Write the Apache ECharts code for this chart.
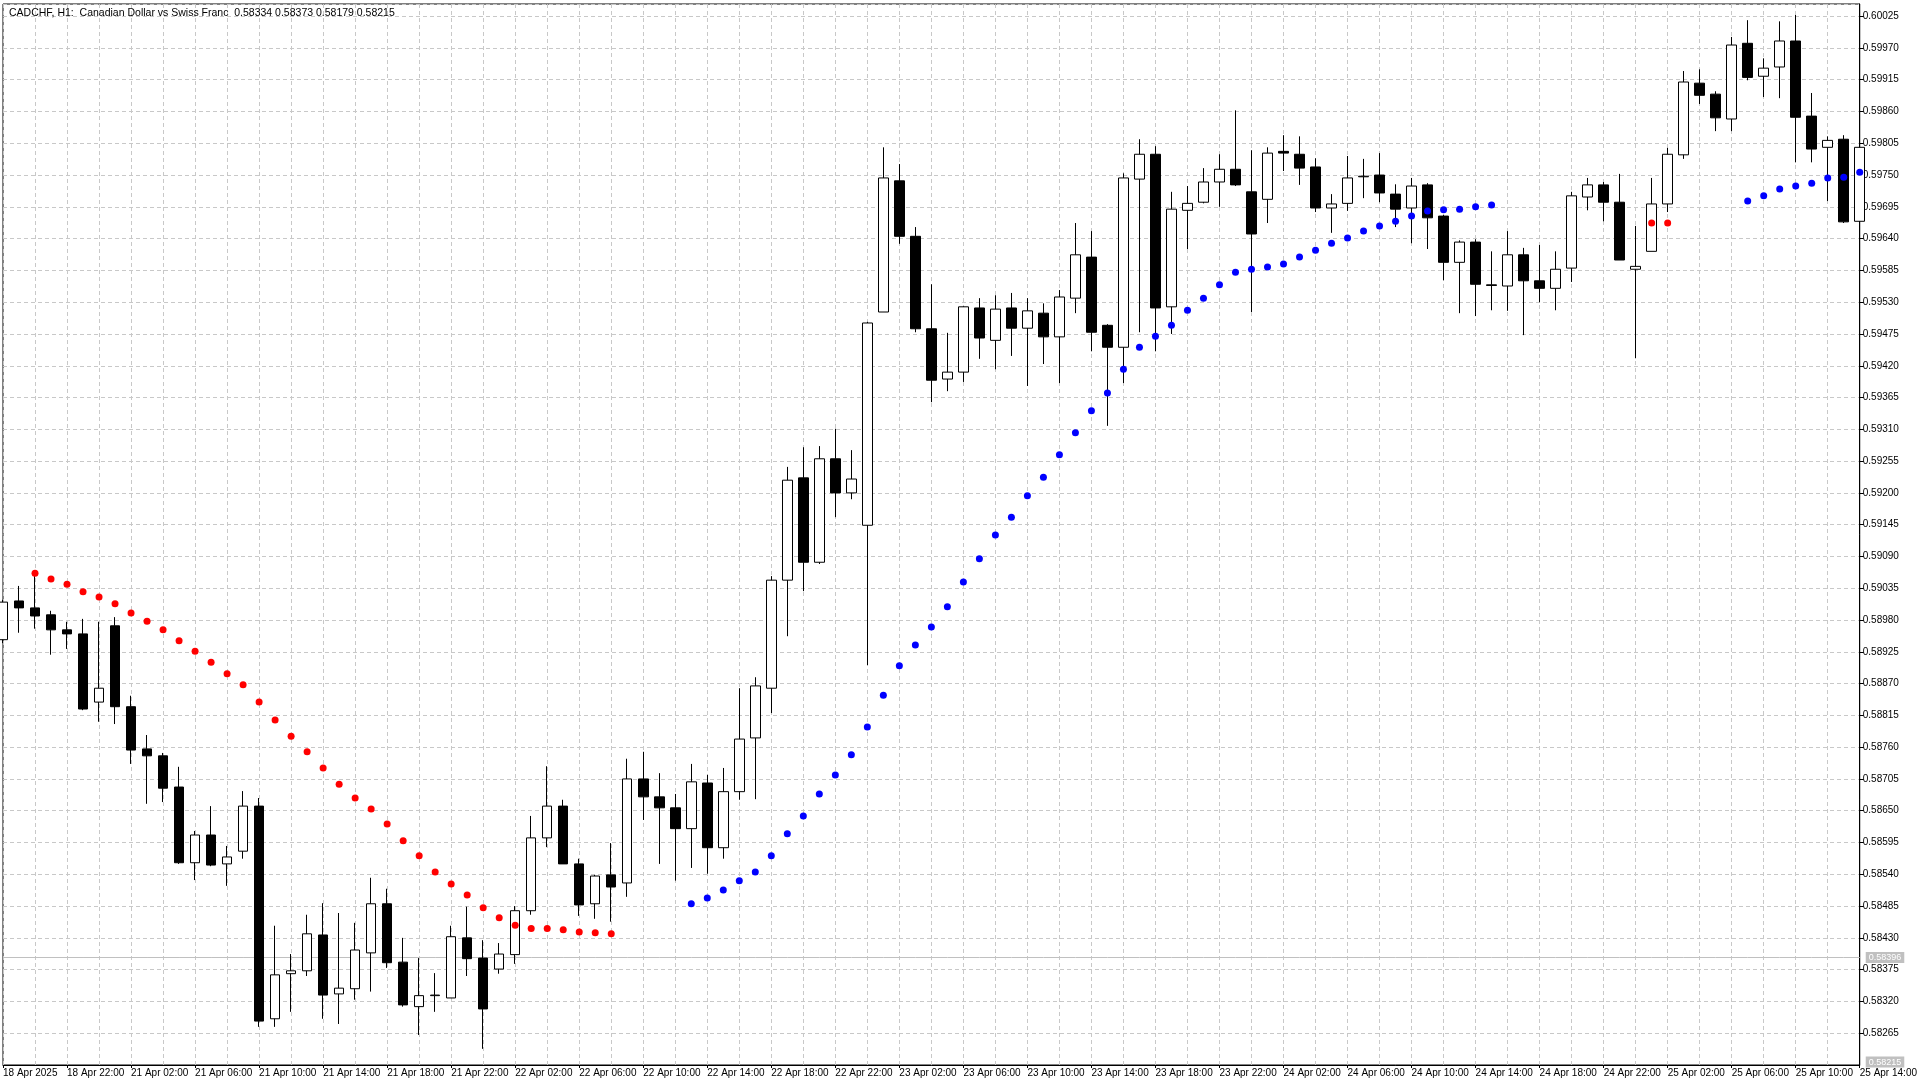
<!DOCTYPE html>
<html><head><meta charset="utf-8">
<script src="https://cdn.jsdelivr.net/npm/echarts@6/dist/echarts.min.js"></script>
<style>html,body{margin:0;padding:0;background:#fff}#c{width:1920px;height:1080px}</style>
</head><body><div id="c"></div>
<script>
const title = "CADCHF, H1:  Canadian Dollar vs Swiss Franc  0.58334 0.58373 0.58179 0.58215";
// categories: hourly bars, weekend skipped
const categories = [];
const catLabels = [];
(function(){
  for (let h = 18; h < 24; h++) { categories.push("18 Apr " + String(h).padStart(2,"0") + ":00"); }
  for (let d = 21; d <= 25; d++) for (let h = 0; h < 24; h++) {
    if (d === 25 && h > 14) break;
    categories.push(d + " Apr " + String(h).padStart(2,"0") + ":00");
  }
  categories.forEach((c,i)=>catLabels.push(i===0 ? "18 Apr 2025" : c));
})();
const open  = [0.58946,0.59013,0.59001,0.58989,0.58963,0.58956,0.58838,0.58970,0.58830,0.58757,0.58745,0.58691,0.58560,0.58608,0.58558,0.58580,0.58658,0.58290,0.58368,0.58373,0.58435,0.58333,0.58342,0.58404,0.58489,0.58388,0.58311,0.58330,0.58326,0.58430,0.58395,0.58376,0.58401,0.58477,0.58603,0.58658,0.58558,0.58489,0.58539,0.58525,0.58705,0.58674,0.58655,0.58619,0.58698,0.58586,0.58683,0.58776,0.58862,0.59049,0.59226,0.59080,0.59259,0.59200,0.59144,0.59513,0.59740,0.59644,0.59484,0.59397,0.59409,0.59520,0.59464,0.59520,0.59485,0.59511,0.59470,0.59537,0.59608,0.59490,0.59452,0.59743,0.59786,0.59522,0.59689,0.59703,0.59738,0.59760,0.59721,0.59708,0.59791,0.59786,0.59764,0.59693,0.59701,0.59747,0.59750,0.59717,0.59693,0.59733,0.59679,0.59599,0.59634,0.59560,0.59558,0.59612,0.59567,0.59554,0.59589,0.59712,0.59733,0.59703,0.59587,0.59618,0.59700,0.59785,0.59909,0.59890,0.59847,0.59978,0.59921,0.59937,0.59982,0.59852,0.59798,0.59812,0.59670];
const high  = [0.59015,0.59039,0.59061,0.58996,0.58977,0.58982,0.58977,0.58985,0.58849,0.58781,0.58750,0.58726,0.58615,0.58658,0.58589,0.58684,0.58672,0.58451,0.58402,0.58470,0.58490,0.58473,0.58456,0.58534,0.58515,0.58430,0.58395,0.58369,0.58451,0.58484,0.58426,0.58421,0.58485,0.58641,0.58727,0.58669,0.58567,0.58539,0.58594,0.58740,0.58752,0.58715,0.58679,0.58731,0.58712,0.58724,0.58862,0.58881,0.59056,0.59245,0.59279,0.59281,0.59311,0.59274,0.59496,0.59798,0.59769,0.59660,0.59561,0.59477,0.59523,0.59537,0.59542,0.59546,0.59537,0.59528,0.59551,0.59667,0.59653,0.59492,0.59753,0.59812,0.59800,0.59721,0.59731,0.59762,0.59786,0.59862,0.59793,0.59798,0.59819,0.59817,0.59779,0.59717,0.59783,0.59778,0.59788,0.59734,0.59745,0.59736,0.59681,0.59637,0.59639,0.59618,0.59653,0.59624,0.59629,0.59618,0.59721,0.59745,0.59738,0.59752,0.59662,0.59745,0.59797,0.59930,0.59933,0.59895,0.59989,0.60018,0.59952,0.60016,0.60027,0.59892,0.59817,0.59819,0.59804];
const low   = [0.58940,0.58958,0.58965,0.58920,0.58930,0.58824,0.58804,0.58800,0.58731,0.58662,0.58665,0.58558,0.58530,0.58554,0.58520,0.58567,0.58276,0.58276,0.58302,0.58364,0.58290,0.58281,0.58323,0.58337,0.58378,0.58311,0.58262,0.58302,0.58326,0.58364,0.58238,0.58368,0.58385,0.58470,0.58587,0.58558,0.58468,0.58463,0.58458,0.58501,0.58634,0.58558,0.58529,0.58551,0.58541,0.58567,0.58669,0.58670,0.58819,0.58952,0.59030,0.59077,0.59158,0.59189,0.58902,0.59513,0.59631,0.59478,0.59357,0.59376,0.59392,0.59432,0.59414,0.59437,0.59385,0.59423,0.59390,0.59511,0.59445,0.59316,0.59390,0.59478,0.59445,0.59475,0.59622,0.59701,0.59695,0.59731,0.59513,0.59667,0.59757,0.59733,0.59686,0.59650,0.59688,0.59710,0.59703,0.59660,0.59632,0.59622,0.59568,0.59511,0.59506,0.59516,0.59515,0.59473,0.59530,0.59516,0.59565,0.59689,0.59670,0.59603,0.59433,0.59618,0.59686,0.59778,0.59873,0.59826,0.59826,0.59914,0.59885,0.59883,0.59772,0.59772,0.59705,0.59667,0.59655];
const close = [0.59011,0.59001,0.58987,0.58963,0.58956,0.58826,0.58862,0.58830,0.58755,0.58745,0.58689,0.58560,0.58608,0.58556,0.58570,0.58658,0.58286,0.58366,0.58373,0.58437,0.58331,0.58343,0.58409,0.58489,0.58387,0.58314,0.58330,0.58331,0.58432,0.58394,0.58307,0.58402,0.58477,0.58603,0.58658,0.58558,0.58487,0.58537,0.58518,0.58705,0.58674,0.58655,0.58619,0.58700,0.58586,0.58683,0.58774,0.58866,0.59049,0.59222,0.59080,0.59259,0.59200,0.59224,0.59494,0.59745,0.59644,0.59484,0.59395,0.59409,0.59522,0.59468,0.59518,0.59485,0.59515,0.59470,0.59539,0.59612,0.59478,0.59452,0.59745,0.59786,0.59520,0.59691,0.59701,0.59738,0.59760,0.59733,0.59648,0.59788,0.59788,0.59762,0.59693,0.59700,0.59745,0.59748,0.59719,0.59691,0.59731,0.59676,0.59599,0.59634,0.59561,0.59559,0.59612,0.59567,0.59554,0.59587,0.59714,0.59733,0.59703,0.59603,0.59592,0.59700,0.59786,0.59911,0.59888,0.59849,0.59975,0.59919,0.59935,0.59982,0.59850,0.59795,0.59810,0.59669,0.59798];
// Parabolic SAR: [barIndex, value]
const sarRedIdx = [2,3,4,5,6,7,8,9,10,11,12,13,14,15,16,17,18,19,20,21,22,23,24,25,26,27,28,29,30,31,32,33,34,35,36,37,38,103,104];
const sarRedVal = [0.59061,0.59051,0.59042,0.59029,0.59020,0.59008,0.58992,0.58978,0.58963,0.58944,0.58926,0.58907,0.58887,0.58868,0.58838,0.58807,0.58779,0.58752,0.58724,0.58696,0.58672,0.58653,0.58627,0.58598,0.58572,0.58544,0.58523,0.58504,0.58482,0.58465,0.58452,0.58446,0.58446,0.58444,0.58440,0.58439,0.58437,0.59667,0.59667];
const sarBlueIdx = [43,44,45,46,47,48,49,50,51,52,53,54,55,56,57,58,59,60,61,62,63,64,65,66,67,68,69,70,71,72,73,74,75,76,77,78,79,80,81,82,83,84,85,86,87,88,89,90,91,92,93,109,110,111,112,113,114,115,116];
const sarBlueVal = [0.58489,0.58499,0.58513,0.58529,0.58544,0.58572,0.58610,0.58641,0.58679,0.58712,0.58747,0.58795,0.58850,0.58901,0.58937,0.58968,0.59003,0.59046,0.59086,0.59127,0.59158,0.59195,0.59227,0.59266,0.59304,0.59342,0.59373,0.59414,0.59452,0.59471,0.59490,0.59516,0.59537,0.59560,0.59582,0.59587,0.59591,0.59596,0.59608,0.59620,0.59632,0.59641,0.59653,0.59662,0.59670,0.59679,0.59688,0.59690,0.59691,0.59695,0.59698,0.59705,0.59714,0.59726,0.59731,0.59736,0.59745,0.59746,0.59755];
const priceLine = 0.58396;
const lastClose = 0.58215;

const candles = open.map((o,i)=>[o, close[i], low[i], high[i]]);
const redData = sarRedIdx.map((x,i)=>[x, sarRedVal[i]]);
const blueData = sarBlueIdx.map((x,i)=>[x, sarBlueVal[i]]);
const FONT = "'Liberation Sans', Arial, sans-serif";
const boxLabel = (v)=>({show:true,position:'end',formatter:v.toFixed(5),backgroundColor:'#c0c0c0',color:'#fff',fontSize:9,fontFamily:FONT,padding:[1,3],distance:4});
const chart = echarts.init(document.getElementById('c'));
chart.setOption({
  animation:false,
  backgroundColor:'#fff',
  title:{text:title,left:4,top:3,textStyle:{fontSize:10.5,fontWeight:'normal',color:'#000',fontFamily:FONT}},
  grid:{left:2,right:54,top:4,bottom:15,show:true,borderColor:'#000',borderWidth:1,backgroundColor:'transparent'},
  xAxis:{type:'category',data:catLabels,boundaryGap:false,
    axisLine:{show:true,lineStyle:{color:'#000'}},
    axisTick:{show:true,interval:3,length:3,lineStyle:{color:'#000'}},
    axisLabel:{interval:3,align:'left',margin:3,fontSize:10,color:'#000',fontFamily:FONT,showMaxLabel:true,hideOverlap:false},
    splitLine:{show:true,interval:1,lineStyle:{color:'#c8c8c8',type:[4,3]}}},
  yAxis:{type:'value',position:'right',min:0.58210,max:0.60046,interval:0.00055,
    axisLine:{show:true,lineStyle:{color:'#000'}},
    axisTick:{show:true,length:4,lineStyle:{color:'#000'}},
    axisLabel:{showMinLabel:false,showMaxLabel:false,margin:3,fontSize:10,color:'#000',fontFamily:FONT,formatter:v=>v.toFixed(5)},
    splitLine:{show:true,lineStyle:{color:'#c8c8c8',type:[4,3]}}},
  series:[
    {type:'candlestick',data:candles,barWidth:10,
      itemStyle:{color:'#fff',color0:'#000',borderColor:'#000',borderColor0:'#000',borderWidth:1}},
    {type:'line',data:catLabels.map(()=>priceLine),symbol:'none',silent:true,z:1,
      lineStyle:{color:'#c0c0c0',width:1},
      endLabel:{show:true,formatter:priceLine.toFixed(5),backgroundColor:'#c0c0c0',color:'#fff',fontSize:9,fontFamily:FONT,padding:[1,3],distance:6}},
    {type:'line',data:catLabels.map(()=>lastClose),symbol:'none',silent:true,z:1,
      lineStyle:{opacity:0},
      endLabel:{show:true,formatter:lastClose.toFixed(5),backgroundColor:'#c0c0c0',color:'#fff',fontSize:9,fontFamily:FONT,padding:[1,3],distance:6}},
    {type:'scatter',data:redData,symbolSize:7,itemStyle:{color:'#ff0000',opacity:1},z:5},
    {type:'scatter',data:blueData,symbolSize:7,itemStyle:{color:'#0000ff',opacity:1},z:5}
  ]
});
</script></body></html>
